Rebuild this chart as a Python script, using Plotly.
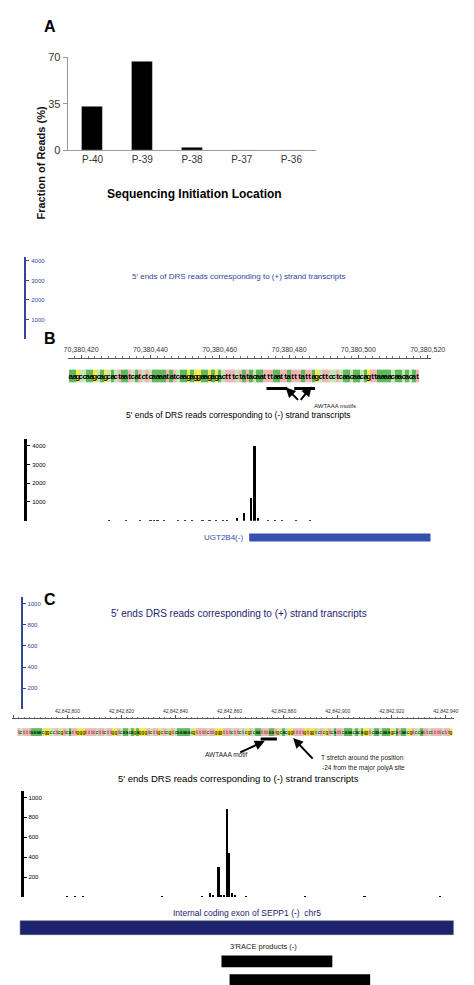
import plotly.graph_objects as go

W, H = 474, 985

# panel A
a_locs = ['P-40', 'P-39', 'P-38', 'P-37', 'P-36']
a_frac = [33, 67, 2, 0, 0]

# panel B (UGT2B4, chr coordinates 70,380,4xx)
b_seq = 'aagccaagcagcactaatcatctcaaaatatcaagaggaagagactttctatacaatttaattatttattagcttcctcaacaacagttaaaacaacacat'
b_seq_start = 70380417
b_minus_pos = [70380428, 70380433, 70380437, 70380440, 70380441, 70380442, 70380444, 70380448,
               70380450, 70380452, 70380455, 70380457, 70380459, 70380461, 70380462, 70380465,
               70380467, 70380469, 70380470, 70380471, 70380474, 70380476, 70380478, 70380482, 70380486]
b_minus_val = [15, 20, 20, 25, 20, 25, 20, 20, 25, 20, 20, 25, 30, 40, 30, 150,
               400, 1250, 4000, 150, 25, 20, 20, 15, 15]
b_motifs = [70380474, 70380482]
b_gene = [70380468.5, 70380521]

# panel C (SEPP1, chr5 coordinates 42,842,7xx-9xx)
c_seq = ('tctttaaaacggcctcgtcattgggttttcttcttggtcaacagagggtcttgctcgtcaaaaacgttttcttgggtttc'
         'ttctcgtcaatttaatgcacggttttgtggtctcgtcattcaaacacaggtcaacaaagcataacgtccattcttttcttg')
c_seq_start = 42842782
c_minus_pos = [42842800, 42842803, 42842806, 42842835, 42842850, 42842853, 42842854, 42842856,
               42842857, 42842858, 42842859, 42842860, 42842861, 42842862, 42842866, 42842888,
               42842910, 42842938]
c_minus_val = [6, 5, 5, 5, 6, 40, 12, 300, 15, 20, 880, 440, 40, 15, 6, 5, 5, 5]
c_motifs = [42842872]
c_exon = [42842782.5, 42842943]
c_race = [[42842857, 42842898], [42842860, 42842912]]

base_code = {'a': 0, 'c': 1, 'g': 2, 't': 3}
seq_scale = [[0, '#5fb85a'], [0.1667, '#5fb85a'], [0.1667, '#c6e6b8'], [0.5, '#c6e6b8'],
             [0.5, '#f2ea3c'], [0.8333, '#f2ea3c'], [0.8333, '#f2b5b5'], [1, '#f2b5b5']]

FONT = 'Arial, Liberation Sans, sans-serif'
BLUE = '#34449a'
NAVY = '#1e2370'


def px(x):
    return x / W


def py(y):
    return 1 - y / H


def xdom(a, b):
    return [a / W, b / W]


def ydom(top, bot):
    return [1 - bot / H, 1 - top / H]


fig = go.Figure()

# ---- A
fig.add_trace(go.Bar(x=a_locs, y=a_frac, marker_color='black', width=0.42,
                     xaxis='x', yaxis='y', showlegend=False))

# ---- B
fig.add_trace(go.Heatmap(x=[b_seq_start + i for i in range(len(b_seq))], y=[0],
                         z=[[base_code[c] for c in b_seq]], text=[list(b_seq)],
                         texttemplate='<b>%{text}</b>', textfont=dict(size=8, color='black', family=FONT),
                         colorscale=seq_scale, zmin=0, zmax=3, showscale=False, hoverinfo='skip',
                         xaxis='x2', yaxis='y2'))
fig.add_trace(go.Scatter(x=[], y=[], xaxis='x3', yaxis='y3', showlegend=False))
fig.add_trace(go.Bar(x=b_minus_pos, y=b_minus_val, width=0.5, marker_color='black',
                     marker_line_width=0, xaxis='x4', yaxis='y4', showlegend=False))

# ---- C
fig.add_trace(go.Heatmap(x=[c_seq_start + i for i in range(len(c_seq))], y=[0],
                         z=[[base_code[c] for c in c_seq]], text=[list(c_seq)],
                         texttemplate='%{text}', textfont=dict(size=5, color='black', family=FONT),
                         colorscale=seq_scale, zmin=0, zmax=3, showscale=False, hoverinfo='skip',
                         xaxis='x5', yaxis='y5'))
fig.add_trace(go.Scatter(x=[], y=[], xaxis='x6', yaxis='y6', showlegend=False))
fig.add_trace(go.Bar(x=c_minus_pos, y=c_minus_val, width=0.6, marker_color='black',
                     marker_line_width=0, xaxis='x7', yaxis='y7', showlegend=False))

b_range = [70380416.12, 70380520.83]
c_range = [42842779.5, 42842942.86]
hidden = dict(visible=False, showgrid=False, zeroline=False)


def track_y(dom, rng, pos, color, width, ticks):
    return dict(domain=dom, range=rng, anchor='free', position=pos, showgrid=False, zeroline=False,
                showline=True, linecolor=color, linewidth=width, ticks='inside', ticklen=3,
                tickcolor=color, tickvals=ticks, ticklabelposition='inside',
                tickfont=dict(size=6, color=color, family=FONT))


ruler = dict(side='top', showline=True, linecolor='#555', linewidth=1, ticks='outside', ticklen=3,
             tickcolor='#555', tickformat=',d', showgrid=False, zeroline=False,
             minor=dict(dtick=2, ticks='outside', ticklen=1.5, tickcolor='#777'))

fig.update_layout(
    width=W, height=H, margin=dict(l=0, r=0, t=0, b=0),
    plot_bgcolor='white', paper_bgcolor='white', font=dict(family=FONT),
    xaxis=dict(domain=xdom(58, 317), anchor='y', showline=True, linecolor='#999', ticks='',
               tickfont=dict(size=10, color='#333'), showgrid=False),
    yaxis=dict(domain=ydom(44, 138), range=[0, 70], tickvals=[0, 35, 70], showline=True,
               linecolor='#999', ticks='outside', tickcolor='#999', ticklen=4, showgrid=False,
               zeroline=False, tickfont=dict(size=11, color='#333')),
    xaxis2=dict(domain=xdom(58, 436), range=b_range, anchor='y2', dtick=20,
                tickfont=dict(size=7, color='#333'), **ruler),
    yaxis2=dict(domain=ydom(349, 373), range=[-0.5, 1.35], **hidden),
    xaxis3=dict(domain=xdom(58, 436), range=b_range, anchor='y3', **hidden),
    yaxis3=track_y(ydom(246, 329), [0, 4200], px(14), BLUE, 2, [1000, 2000, 3000, 4000]),
    xaxis4=dict(domain=xdom(58, 436), range=b_range, anchor='y4', **hidden),
    yaxis4=track_y(ydom(430, 513), [0, 4370], px(14), 'black', 3, [1000, 2000, 3000, 4000]),
    xaxis5=dict(domain=xdom(0, 460), range=c_range, anchor='y5', dtick=20,
                tickfont=dict(size=5, color='#333'), **ruler),
    yaxis5=dict(domain=ydom(714, 731), range=[-0.5, 1.625], **hidden),
    xaxis6=dict(domain=xdom(0, 460), range=c_range, anchor='y6', **hidden),
    yaxis6=track_y(ydom(590, 704), [0, 1065], px(10), BLUE, 2, [200, 400, 600, 800, 1000]),
    xaxis7=dict(domain=xdom(0, 460), range=c_range, anchor='y7', **hidden),
    yaxis7=track_y(ydom(787, 894), [0, 1060], px(10), 'black', 3, [200, 400, 600, 800, 1000]),
    bargap=0,
)

shapes = []
for m in b_motifs:
    shapes.append(dict(type='line', xref='x2', yref='paper', x0=m - 0.5, x1=m + 5.5,
                       y0=py(379), y1=py(379), line=dict(color='black', width=3)))
for m in c_motifs:
    shapes.append(dict(type='line', xref='x5', yref='paper', x0=m - 0.5, x1=m + 5.5,
                       y0=py(734), y1=py(734), line=dict(color='black', width=3)))
shapes.append(dict(type='rect', xref='x4', yref='paper', x0=b_gene[0], x1=b_gene[1],
                   y0=py(534), y1=py(526), fillcolor='#3450b0', line_width=0))
shapes.append(dict(type='rect', xref='x7', yref='paper', x0=c_exon[0], x1=c_exon[1],
                   y0=py(932), y1=py(918), fillcolor=NAVY, line=dict(color='#555', width=0.5)))
for (s, e), (t, b) in zip(c_race, [(953, 965), (972, 985)]):
    shapes.append(dict(type='rect', xref='x7', yref='paper', x0=s, x1=e,
                       y0=py(b), y1=py(t), fillcolor='black', line_width=0))
fig.update_layout(shapes=shapes)


def txt(x, y, s, size, color='black', bold=False, xanchor='center'):
    if bold:
        s = '<b>' + s + '</b>'
    fig.add_annotation(x=px(x), y=py(y), xref='paper', yref='paper', text=s, showarrow=False,
                       xanchor=xanchor, yanchor='middle', font=dict(size=size, color=color, family=FONT))


def arrow(xref, x, y, ax, ay):
    fig.add_annotation(x=x, y=py(y), xref=xref, yref='paper', ax=ax, ay=ay, text='',
                       showarrow=True, arrowhead=2, arrowsize=1, arrowwidth=2, arrowcolor='black')


txt(40, 13, 'A', 16, bold=True)
fig.add_annotation(x=px(22), y=py(92), xref='paper', yref='paper', text='<b>Fraction of Reads (%)</b>',
                   showarrow=False, textangle=-90, font=dict(size=11, family=FONT, color='#111'))
txt(190, 182, 'Sequencing Initiation Location', 12, bold=True)

txt(40, 329, 'B', 16, bold=True)
txt(236, 266, "5' ends of DRS reads corresponding to (+) strand transcripts", 8, BLUE)
txt(336, 397, 'AWTAAA motifs', 6, '#222', xanchor='center')
arrow('x2', 70380479, 378, 14, 14)
arrow('x2', 70380486.5, 377, -12, 15)
txt(236, 406, "5' ends of DRS reads corresponding to (-) strand transcripts", 8.5)
txt(220, 530, 'UGT2B4(-)', 8, '#3450b0', xanchor='center')

txt(40, 593, 'C', 16, bold=True)
txt(236, 607, "5' ends DRS reads corresponding to (+) strand transcripts", 10, NAVY)
txt(223, 750, 'AWTAAA motif', 6.5, '#222')
arrow('x5', 42842873, 736, -26, 12)
arrow('x5', 42842883.5, 733, 21, 22)
txt(320, 753, 'T stretch around the position', 6.5, '#222', xanchor='left')
txt(321, 763, '-24 from the major polyA site', 6.5, '#222', xanchor='left')
txt(236, 774, "5' ends DRS reads corresponding to (-) strand transcripts", 9.5)
txt(245, 910, 'Internal coding exon of SEPP1 (-)  chr5', 8.5, NAVY)
txt(262, 944, "3'RACE products (-)", 7.5, '#222')

fig.write_html('out.html')
